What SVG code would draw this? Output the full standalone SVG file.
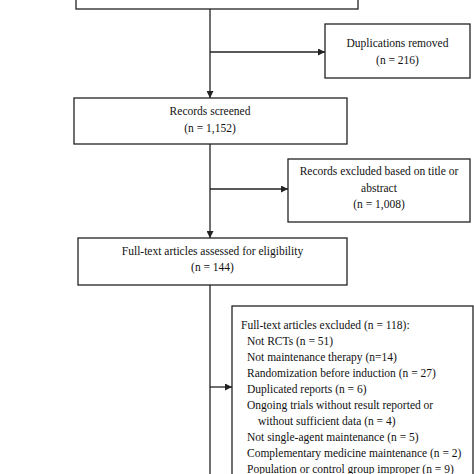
<svg xmlns="http://www.w3.org/2000/svg" width="474" height="474" viewBox="0 0 474 474">
<defs>
<style>
.box{fill:#fff;stroke:#222;stroke-width:1.3}
.ln{fill:none;stroke:#222;stroke-width:1.3}
text{font-family:"Liberation Serif","Times New Roman",serif;font-size:11.5px;fill:#111}
.c{text-anchor:middle}
</style>
<marker id="ah" viewBox="0 0 10 10" refX="10" refY="5" markerWidth="7" markerHeight="7" markerUnits="userSpaceOnUse" orient="auto">
<path d="M0,0 L10,5 L0,10 z" fill="#222"/>
</marker>
</defs>
<rect width="474" height="474" fill="#fff"/>
<g id="connectors">
<line class="ln" x1="210" y1="9" x2="210" y2="98" marker-end="url(#ah)"/>
<line class="ln" x1="210" y1="52" x2="325" y2="52" marker-end="url(#ah)"/>
<line class="ln" x1="210" y1="144" x2="210" y2="238" marker-end="url(#ah)"/>
<line class="ln" x1="210" y1="189" x2="288" y2="189" marker-end="url(#ah)"/>
<line class="ln" x1="210" y1="285" x2="210" y2="474"/>
<line class="ln" x1="210" y1="387" x2="232" y2="387" marker-end="url(#ah)"/>
</g>
<g id="identified">
<rect class="box" x="76" y="-40" width="282" height="49"/>
</g>
<g id="duplications">
<rect class="box" x="325" y="24" width="145" height="54"/>
<text class="c" x="397.5" y="47">Duplications removed</text>
<text class="c" x="397.5" y="64">(n = 216)</text>
</g>
<g id="screened">
<rect class="box" x="74" y="98" width="273" height="46"/>
<text class="c" x="210" y="115">Records screened</text>
<text class="c" x="210" y="131.5">(n = 1,152)</text>
</g>
<g id="excluded-title">
<rect class="box" x="288" y="159" width="182" height="63"/>
<text class="c" x="379" y="175">Records excluded based on title or</text>
<text class="c" x="379" y="192">abstract</text>
<text class="c" x="379" y="208">(n = 1,008)</text>
</g>
<g id="fulltext">
<rect class="box" x="78" y="238" width="269" height="47"/>
<text class="c" x="212.5" y="255">Full-text articles assessed for eligibility</text>
<text class="c" x="212.5" y="271">(n = 144)</text>
</g>
<g id="excluded-fulltext">
<rect class="box" x="232" y="306" width="241" height="200"/>
<text x="241" y="329">Full-text articles excluded (n = 118):</text>
<text x="247" y="345">Not RCTs (n = 51)</text>
<text x="247" y="361">Not maintenance therapy (n=14)</text>
<text x="247" y="377">Randomization before induction (n = 27)</text>
<text x="247" y="393">Duplicated reports (n = 6)</text>
<text x="247" y="409">Ongoing trials without result reported or</text>
<text x="258" y="425">without sufficient data (n = 4)</text>
<text x="247" y="441">Not single-agent maintenance (n = 5)</text>
<text x="247" y="457">Complementary medicine maintenance (n = 2)</text>
<text x="247" y="473">Population or control group improper (n = 9)</text>
</g>
</svg>
